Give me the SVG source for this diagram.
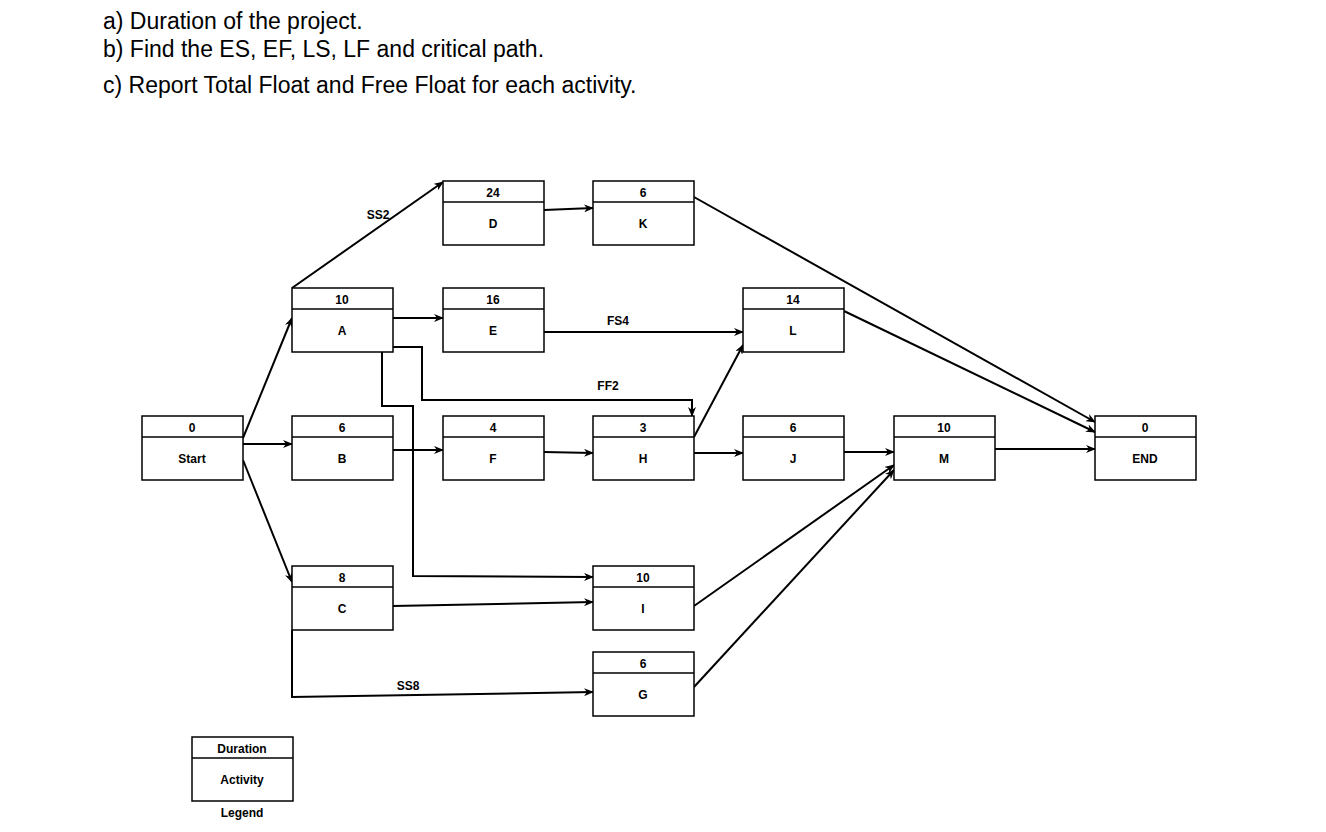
<svg xmlns="http://www.w3.org/2000/svg" width="1326" height="832" viewBox="0 0 1326 832">
<defs>
<marker id="ar" markerWidth="10" markerHeight="8" refX="9" refY="4" orient="auto" markerUnits="userSpaceOnUse"><path d="M0,0 L10,4 L0,8 L3,4 z" fill="#000"/></marker>
</defs>
<style>
.b{fill:#fff;stroke:#000;stroke-width:1.5}
.t{font-family:"Liberation Sans",Arial,sans-serif;font-weight:bold;font-size:12px;text-anchor:middle}
.h{font-family:"Liberation Sans",Arial,sans-serif;font-size:23px}
.c{fill:none;stroke:#000;stroke-width:2;marker-end:url(#ar)}
.n{fill:none;stroke:#000;stroke-width:2}
</style>
<rect width="1326" height="832" fill="#fff"/>
<text class="h" x="103" y="29">a) Duration of the project.</text>
<text class="h" x="103" y="57">b) Find the ES, EF, LS, LF and critical path.</text>
<text class="h" x="103" y="93">c) Report Total Float and Free Float for each activity.</text>
<g id="connectors">
<path class="c" d="M292,288 L443,182"/>
<path class="c" d="M243,438 L292,318"/>
<path class="c" d="M243,444 L292,444"/>
<path class="c" d="M243,460 L292,582"/>
<path class="c" d="M393,318 L443,318"/>
<path class="c" d="M393,347 L422,347 L422,400 L692,400 L692,416"/>
<path class="c" d="M382,352 L382,406 L413,406 L413,576 L593,577"/>
<path class="c" d="M393,450 L443,450"/>
<path class="c" d="M544,452 L593,453"/>
<path class="c" d="M544,332 L743,332"/>
<path class="c" d="M544,210 L593,208"/>
<path class="c" d="M694,197 L1095,422"/>
<path class="c" d="M844,311 L1095,432"/>
<path class="c" d="M694,437 L743,345"/>
<path class="c" d="M694,453 L743,453"/>
<path class="c" d="M844,452 L894,452"/>
<path class="c" d="M995,449 L1095,449"/>
<path class="c" d="M694,606 L894,465"/>
<path class="c" d="M694,687 L894,470"/>
<path class="c" d="M393,606 L593,602"/>
<path class="c" d="M292,630 L292,697 L593,692"/>
<text class="t" x="378" y="219">SS2</text>
<text class="t" x="618" y="325">FS4</text>
<text class="t" x="608" y="390">FF2</text>
<text class="t" x="408" y="690">SS8</text>
</g>
<g id="start"><rect class="b" x="142" y="416" width="101" height="64"/><line class="b" x1="142" y1="437" x2="243" y2="437"/><text class="t" x="192" y="432">0</text><text class="t" x="192" y="463">Start</text></g>
<g id="A"><rect class="b" x="292" y="288" width="101" height="64"/><line class="b" x1="292" y1="309" x2="393" y2="309"/><text class="t" x="342" y="304">10</text><text class="t" x="342" y="335">A</text></g>
<g id="B"><rect class="b" x="292" y="416" width="101" height="64"/><line class="b" x1="292" y1="437" x2="393" y2="437"/><text class="t" x="342" y="432">6</text><text class="t" x="342" y="463">B</text></g>
<g id="C"><rect class="b" x="292" y="566" width="101" height="64"/><line class="b" x1="292" y1="587" x2="393" y2="587"/><text class="t" x="342" y="582">8</text><text class="t" x="342" y="613">C</text></g>
<g id="D"><rect class="b" x="443" y="181" width="101" height="64"/><line class="b" x1="443" y1="202" x2="544" y2="202"/><text class="t" x="493" y="197">24</text><text class="t" x="493" y="228">D</text></g>
<g id="E"><rect class="b" x="443" y="288" width="101" height="64"/><line class="b" x1="443" y1="309" x2="544" y2="309"/><text class="t" x="493" y="304">16</text><text class="t" x="493" y="335">E</text></g>
<g id="F"><rect class="b" x="443" y="416" width="101" height="64"/><line class="b" x1="443" y1="437" x2="544" y2="437"/><text class="t" x="493" y="432">4</text><text class="t" x="493" y="463">F</text></g>
<g id="K"><rect class="b" x="593" y="181" width="101" height="64"/><line class="b" x1="593" y1="202" x2="694" y2="202"/><text class="t" x="643" y="197">6</text><text class="t" x="643" y="228">K</text></g>
<g id="H"><rect class="b" x="593" y="416" width="101" height="64"/><line class="b" x1="593" y1="437" x2="694" y2="437"/><text class="t" x="643" y="432">3</text><text class="t" x="643" y="463">H</text></g>
<g id="I"><rect class="b" x="593" y="566" width="101" height="64"/><line class="b" x1="593" y1="587" x2="694" y2="587"/><text class="t" x="643" y="582">10</text><text class="t" x="643" y="613">I</text></g>
<g id="G"><rect class="b" x="593" y="652" width="101" height="64"/><line class="b" x1="593" y1="673" x2="694" y2="673"/><text class="t" x="643" y="668">6</text><text class="t" x="643" y="699">G</text></g>
<g id="L"><rect class="b" x="743" y="288" width="101" height="64"/><line class="b" x1="743" y1="309" x2="844" y2="309"/><text class="t" x="793" y="304">14</text><text class="t" x="793" y="335">L</text></g>
<g id="J"><rect class="b" x="743" y="416" width="101" height="64"/><line class="b" x1="743" y1="437" x2="844" y2="437"/><text class="t" x="793" y="432">6</text><text class="t" x="793" y="463">J</text></g>
<g id="M"><rect class="b" x="894" y="416" width="101" height="64"/><line class="b" x1="894" y1="437" x2="995" y2="437"/><text class="t" x="944" y="432">10</text><text class="t" x="944" y="463">M</text></g>
<g id="end"><rect class="b" x="1095" y="416" width="101" height="64"/><line class="b" x1="1095" y1="437" x2="1196" y2="437"/><text class="t" x="1145" y="432">0</text><text class="t" x="1145" y="463">END</text></g>
<g id="legend"><rect class="b" x="192" y="737" width="101" height="64"/><line class="b" x1="192" y1="758" x2="293" y2="758"/><text class="t" x="242" y="753">Duration</text><text class="t" x="242" y="784">Activity</text><text class="t" x="242" y="817">Legend</text></g>
</svg>
